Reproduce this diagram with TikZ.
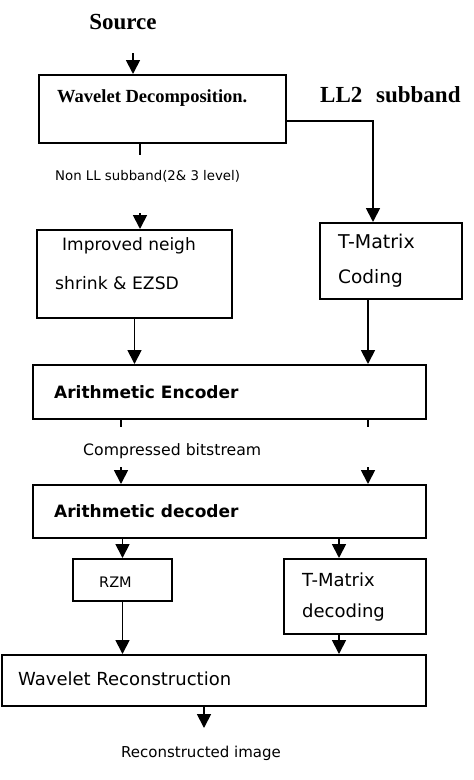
\documentclass[tikz,border=0pt]{standalone}
\usepackage{fontspec}
\setmainfont{DejaVu Sans}
\newfontfamily\tnr{Liberation Serif}
\usetikzlibrary{arrows.meta}
\newcommand\setfs[1]{\fontsize{#1}{#1}\selectfont}
\begin{document}
\begin{tikzpicture}[x=1pt,y=-1pt,
  box/.style={draw, line width=2pt, inner sep=0pt, anchor=north west},
  arr/.style={-{Triangle[length=14pt,width=14pt]}, line width=1.8pt},
  ln/.style={line width=1.8pt},
  txt/.style={inner sep=0pt, anchor=base west},
  sertxt/.style={txt, font=\tnr\bfseries},
  boldtxt/.style={txt, font=\bfseries\setfs{17}},
  regtxt/.style={txt, font=\setfs{17.5}}
]
\useasboundingbox (0,0) rectangle (474,780);

% top
\node[sertxt, anchor=base, font=\tnr\bfseries\setfs{23}] (src) at (123,29) {Source};
\coordinate (srcpt) at (133,53);
\node[box, minimum width=247pt, minimum height=68pt] (wd) at (38,74) {};
\node[sertxt, font=\tnr\bfseries\setfs{18.5}] (wdt) at (57,102) {Wavelet Decomposition.};
\draw[arr] (srcpt) -- (wd.north -| srcpt);

\node[sertxt, font=\tnr\bfseries\setfs{23}] (ll2) at (320,102) {LL2\hspace{0.6em}subband};

% T-Matrix coding
\node[box, minimum width=142pt, minimum height=76pt] (tmc) at (319,222) {};
\node[regtxt, font=\setfs{19}] (tmct1) at (338,248) {T-Matrix};
\node[regtxt, font=\setfs{18.5}] (tmct2) at (338,283) {Coding};
\coordinate (llrow) at (0,121);
\coordinate (colT) at (373,0);
\draw[arr] (wd.east |- llrow) -- (colT |- llrow) -- (tmc.north -| colT);

% non LL
\coordinate (tickend) at (140,155);
\draw[ln] (wd.south -| tickend) -- (tickend);
\node[txt, font=\setfs{13.3}] (nonll) at (55,180) {Non LL subband(2\& 3 level)};
\coordinate (imparr) at (140,213);

% improved
\node[box, minimum width=195pt, minimum height=88pt] (imp) at (36,229) {};
\node[regtxt, font=\setfs{17}] (impt1) at (62,250) {Improved neigh};
\node[regtxt, font=\setfs{17.2}] (impt2) at (55,289) {shrink \& EZSD};
\draw[arr] (imparr) -- (imp.north -| imparr);

% encoder
\node[box, minimum width=393pt, minimum height=54pt] (enc) at (32,364) {};
\node[boldtxt] (enct) at (54,398) {Arithmetic Encoder};
\coordinate (colR) at (368,0);
\draw[arr] (imp.south) -- (enc.north -| imp.south);
\draw[arr] (tmc.south -| colR) -- (enc.north -| colR);

\coordinate (t1) at (121,427);
\coordinate (t2) at (368,427);
\draw[ln] (enc.south -| t1) -- (t1);
\draw[ln] (enc.south -| t2) -- (t2);
\node[txt, font=\setfs{15.7}] (cbs) at (83,455) {Compressed bitstream};

% decoder
\node[box, minimum width=393pt, minimum height=53pt] (dec) at (32,484) {};
\node[boldtxt] (dect) at (54,517) {Arithmetic decoder};
\coordinate (a1) at (121,467);
\coordinate (a2) at (368,467);
\draw[arr] (a1) -- (dec.north -| a1);
\draw[arr] (a2) -- (dec.north -| a2);

% RZM and T-Matrix decoding
\node[box, minimum width=99pt, minimum height=42pt] (rzm) at (72,558) {};
\node[txt, font=\setfs{14.5}] (rzmt) at (99,587) {RZM};
\node[box, minimum width=142pt, minimum height=75pt] (tmd) at (283,558) {};
\node[regtxt, font=\setfs{18}] (tmdt1) at (302,586) {T-Matrix};
\node[regtxt, font=\setfs{18}] (tmdt2) at (302,617) {decoding};
\coordinate (colD) at (339,0);
\draw[arr] (dec.south -| rzm.north) -- (rzm.north);
\draw[arr] (dec.south -| colD) -- (tmd.north -| colD);

% reconstruction
\node[box, minimum width=424pt, minimum height=51pt] (wr) at (1,654) {};
\node[regtxt, font=\setfs{18}] (wrt) at (18,685) {Wavelet Reconstruction};
\draw[arr] (rzm.south) -- (wr.north -| rzm.south);
\draw[arr] (tmd.south -| colD) -- (wr.north -| colD);
\coordinate (outpt) at (204,728);
\draw[arr] (wr.south -| outpt) -- (outpt);
\node[txt, font=\setfs{15}] (rec) at (121,757) {Reconstructed image};
\end{tikzpicture}
\end{document}
